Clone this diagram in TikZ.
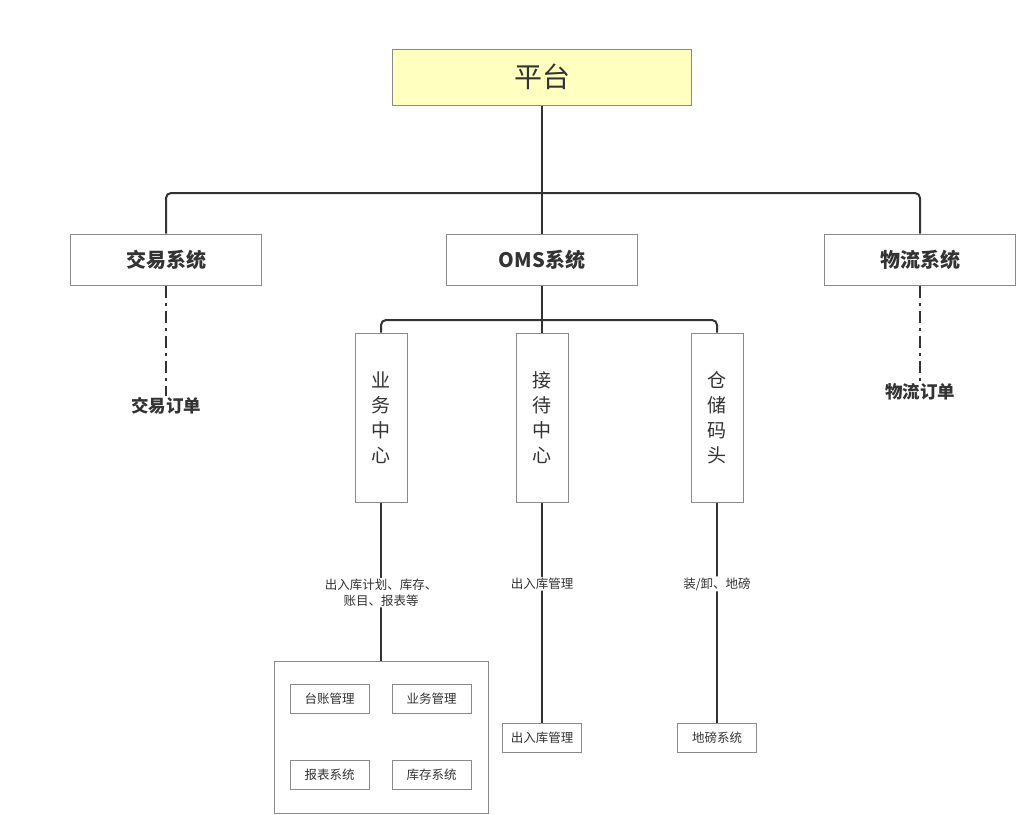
\documentclass[tikz,border=0pt]{standalone}
\usepackage{fontspec}
\setmainfont{Noto Sans CJK SC}
\definecolor{topfill}{HTML}{FFFFC0}
\definecolor{boxline}{HTML}{8A8A8A}
\definecolor{conn}{HTML}{333333}
\begin{document}
\begin{tikzpicture}[x=1pt,y=-1pt,
  box/.style={draw=boxline,line width=1pt,fill=white,inner sep=0pt,text=conn},
  sysbox/.style={box,minimum width=191pt,minimum height=51pt,font=\fontsize{20}{23}\selectfont\bfseries},
  vbox/.style={box,minimum width=52pt,minimum height=169pt,font=\fontsize{19}{25}\selectfont,align=center},
  smallbox/.style={box,minimum width=79pt,minimum height=29pt,font=\fontsize{12.5}{15}\selectfont},
  conline/.style={draw=conn,line width=2pt,rounded corners=5pt},
  dashline/.style={draw=conn,line width=2pt,dash pattern=on 12pt off 5pt on 3pt off 5pt},
  elabel/.style={fill=white,inner sep=1pt,text=conn,font=\fontsize{12.5}{16}\selectfont,align=center},
  olabel/.style={text=conn,font=\fontsize{17.5}{20}\selectfont\bfseries,inner sep=1pt}]
\useasboundingbox (0,0) rectangle (1017,814);
% nodes
\node[box,fill=topfill,minimum width=299pt,minimum height=56pt,font=\fontsize{28}{32}\selectfont] (pt) at (542,77) {平台};
\node[sysbox] (jy) at (166,259.5) {交易系统};
\node[sysbox] (oms) at (542,259.5) {OMS系统};
\node[sysbox] (wl) at (920,259.5) {物流系统};
\node[olabel] (jyod) at (166,406) {交易订单};
\node[olabel] (wlod) at (920,392) {物流订单};
\node[vbox] (yw) at (381,417.5) {业\\务\\中\\心};
\node[vbox] (jd) at (542,417.5) {接\\待\\中\\心};
\node[vbox] (cc) at (717,417.5) {仓\\储\\码\\头};
\node[box,minimum width=214pt,minimum height=152pt] (grp) at (381,737) {};
\node[smallbox] (tz) at (329.5,698.5) {台账管理};
\node[smallbox] (ywgl) at (431.5,698.5) {业务管理};
\node[smallbox] (bb) at (329.5,774.5) {报表系统};
\node[smallbox] (kc) at (431.5,774.5) {库存系统};
\node[smallbox] (crk) at (542,737.5) {出入库管理};
\node[smallbox] (db) at (717,737.5) {地磅系统};
\coordinate (bus1) at (542,193);
\coordinate (bus2) at (542,320);
% connectors
\draw[conline] (pt.south) -- (oms.north);
\draw[conline] (bus1) -| (jy.north);
\draw[conline] (bus1) -| (wl.north);
\draw[conline] (oms.south) -- (jd.north);
\draw[conline] (bus2) -| (yw.north);
\draw[conline] (bus2) -| (cc.north);
\draw[dashline] (jy.south) -- (jyod.north);
\draw[dashline] (wl.south) -- (wlod.north);
\draw[conline] (yw.south) -- node[elabel,pos=0.57] {出入库计划、库存、\\账目、报表等} (grp.north);
\draw[conline] (jd.south) -- node[elabel,pos=0.37] {出入库管理} (crk.north);
\draw[conline] (cc.south) -- node[elabel,pos=0.37] {装/卸、地磅} (db.north);
\end{tikzpicture}
\end{document}
